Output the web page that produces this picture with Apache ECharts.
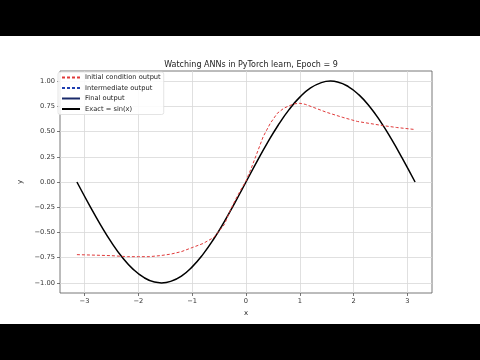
<!DOCTYPE html>
<html><head><meta charset="utf-8">
<script src="https://cdn.jsdelivr.net/npm/echarts@6/dist/echarts.min.js"></script>
<style>html,body{margin:0;padding:0;background:#000}#c{width:480px;height:360px}</style>
</head><body><div id="c"></div>
<script>
// Exact = sin(x), values typed
const exactX = [-3.1416,-2.9,-2.7,-2.5,-2.3,-2.1,-1.9,-1.7,-1.5708,-1.4,-1.2,-1.0,-0.8,-0.6,-0.4,-0.2,0.0,0.2,0.4,0.6,0.8,1.0,1.2,1.4,1.5708,1.7,1.9,2.1,2.3,2.5,2.7,2.9,3.1416];
const exactY = [0.0,-0.239,-0.427,-0.598,-0.746,-0.863,-0.946,-0.992,-1.0,-0.985,-0.932,-0.841,-0.717,-0.565,-0.389,-0.199,0.0,0.199,0.389,0.565,0.717,0.841,0.932,0.985,1.0,0.992,0.946,0.863,0.746,0.598,0.427,0.239,0.0];
// Initial condition output
const initX = [-3.1416,-2.8,-2.5,-2.2,-2.0,-1.8,-1.6,-1.4,-1.2,-1.0,-0.8,-0.6,-0.4,-0.3,-0.2,-0.1,0.0,0.1,0.2,0.32,0.45,0.58,0.7,0.8,0.9,1.0,1.1,1.3,1.5,1.8,2.07,2.3,2.53,2.8,3.1416];
const initY = [-0.72,-0.725,-0.73,-0.74,-0.74,-0.74,-0.73,-0.715,-0.69,-0.65,-0.61,-0.55,-0.42,-0.29,-0.18,-0.08,0.01,0.14,0.28,0.45,0.58,0.68,0.73,0.755,0.775,0.78,0.77,0.73,0.69,0.64,0.60,0.58,0.56,0.54,0.52];
const interX = [], interY = [];
const finalX = [], finalY = [];
const xTicks = [-3,-2,-1,0,1,2,3];
const yTicks = [-1,-0.75,-0.5,-0.25,0,0.25,0.5,0.75,1];
const titleText = 'Watching ANNs in PyTorch learn, Epoch = 9';
const names = ['Initial condition output','Intermediate output','Final output','Exact = sin(x)'];

const zip = (a,b)=>a.map((v,i)=>[v,b[i]]);
const fmtY = v => (v<0?'\u2212':'') + Math.abs(v).toFixed(2);
const fmtX = v => (v<0?'\u2212':'') + Math.abs(v);
const FONT = 'DejaVu Sans';
const chart = echarts.init(document.getElementById('c'));
chart.setOption({
  backgroundColor:'#000',
  animation:false,
  graphic:[{type:'rect',z:-100,silent:true,shape:{x:0,y:36,width:480,height:288},style:{fill:'#fff'}}],
  title:{text:titleText,left:246,top:56,textAlign:'center',textStyle:{fontFamily:FONT,fontSize:8,fontWeight:'normal',color:'#222'}},
  grid:{left:60,right:48,top:71,bottom:67,show:true,borderColor:'#555',borderWidth:0.8,backgroundColor:'transparent'},
  legend:{
    left:58,top:72,orient:'vertical',itemGap:3.5,itemWidth:18,itemHeight:7.5,
    backgroundColor:'rgba(255,255,255,0.85)',borderColor:'#ddd',borderWidth:0.8,borderRadius:2,padding:[2,3,2,3],
    textStyle:{fontFamily:FONT,fontSize:6.7,color:'#222'},
    itemStyle:{opacity:0},
    data:names
  },
  xAxis:{type:'value',min:-3.456,max:3.456,name:'x',nameLocation:'middle',nameGap:14,
    nameTextStyle:{fontFamily:FONT,fontSize:7,color:'#222'},
    axisLine:{show:false,onZero:false},
    axisTick:{show:true,length:3,customValues:xTicks,lineStyle:{color:'#555',width:0.8}},
    axisLabel:{customValues:xTicks,formatter:fmtX,fontFamily:FONT,fontSize:6.7,color:'#333',margin:5},
    splitLine:{show:true,lineStyle:{color:'#d8d8d8',width:0.8}}},
  yAxis:{type:'value',min:-1.1,max:1.1,name:'y',nameLocation:'middle',nameGap:29,nameRotate:90,
    nameTextStyle:{fontFamily:FONT,fontSize:7,color:'#222'},
    axisLine:{show:false,onZero:false},
    axisTick:{show:true,length:3,customValues:yTicks,lineStyle:{color:'#555',width:0.8}},
    axisLabel:{customValues:yTicks,formatter:fmtY,fontFamily:FONT,fontSize:6.7,color:'#333',margin:5},
    splitLine:{show:true,lineStyle:{color:'#d8d8d8',width:0.8}}},
  series:[
    {name:names[0],type:'line',symbol:'none',data:zip(initX,initY),color:'#e03a3a',lineStyle:{color:'#e03a3a',width:1,type:[3,2]},z:3},
    {name:names[1],type:'line',symbol:'none',data:zip(interX,interY),color:'#1f3fb0',lineStyle:{color:'#1f3fb0',width:1,type:[3,2]}},
    {name:names[2],type:'line',symbol:'none',data:zip(finalX,finalY),color:'#1a2a6a',lineStyle:{color:'#1a2a6a',width:1.2}},
    {name:names[3],type:'line',symbol:'none',smooth:true,data:zip(exactX,exactY),color:'#000',lineStyle:{color:'#000',width:1.5},z:2}
  ]
});
</script></body></html>
